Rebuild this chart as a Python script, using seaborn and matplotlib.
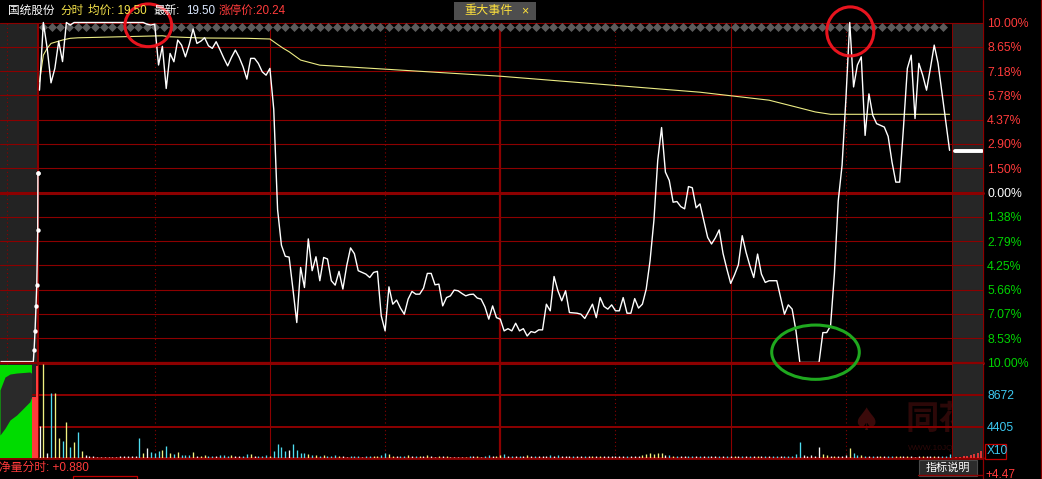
import numpy as np
import pandas as pd
import seaborn as sns
import matplotlib.pyplot as plt
from matplotlib.patches import Ellipse, Rectangle

# ---------------- data ----------------
# 国统股份 intraday, % change vs previous close, one value per minute (9:30 .. 14:57)
price_pct = [
    6.02, 10.00, 8.48, 6.45, 7.30, 8.90, 7.70, 10.00, 9.85, 10.00,
    10.00, 10.00, 10.00, 10.00, 10.00, 10.00, 10.00, 10.00, 10.00, 10.00,
    10.00, 10.00, 10.00, 10.00, 10.00, 10.00, 10.00, 10.00, 9.90, 9.85,
    9.90, 7.50, 8.60, 6.12, 8.18, 7.69, 8.97, 8.67, 7.98, 8.70,
    9.62, 8.77, 8.90, 9.10, 8.63, 8.48, 8.87, 8.40, 7.90, 7.45,
    7.95, 8.38, 7.95, 7.40, 6.67, 7.89, 7.89, 7.59, 7.10, 6.90,
    7.30, 4.90, -1.00, -3.10, -3.75, -3.80, -5.68, -7.65, -4.41, -5.59,
    -2.73, -4.60, -3.78, -5.19, -3.82, -3.91, -5.19, -5.45, -4.64, -5.68,
    -4.31, -3.26, -3.60, -4.60, -4.70, -4.80, -5.00, -4.70, -4.64, -7.26,
    -8.14, -5.55, -6.57, -6.33, -6.80, -7.16, -6.27, -5.82, -5.98, -5.98,
    -5.63, -4.76, -4.76, -5.43, -5.39, -6.67, -6.18, -6.08, -5.74, -5.78,
    -5.94, -6.08, -6.00, -5.98, -6.21, -6.27, -6.73, -7.45, -6.67, -7.36,
    -7.45, -8.14, -8.01, -8.14, -7.69, -8.14, -8.01, -8.44, -8.18, -8.24,
    -8.08, -8.08, -6.57, -6.96, -4.94, -5.78, -6.37, -5.78, -7.06, -7.08,
    -7.10, -7.16, -7.41, -7.00, -6.57, -7.36, -6.18, -6.70, -6.86, -6.61,
    -6.96, -6.96, -6.18, -7.10, -7.10, -6.24, -6.80, -6.57, -5.68, -4.01,
    -1.65, 1.89, 3.82, 1.20, 0.71, -0.57, -0.53, -0.83, -0.96, 0.35,
    0.28, -0.90, -0.67, -1.65, -2.64, -3.03, -2.67, -2.20, -3.58, -4.50,
    -5.35, -4.84, -4.25, -2.54, -3.52, -4.31, -5.00, -3.62, -4.80, -5.29,
    -5.19, -5.19, -5.19, -6.18, -7.16, -6.61, -6.86, -8.14, -10.00, -10.00,
    -10.00, -10.00, -10.00, -10.00, -8.24, -8.24, -7.85, -4.80, -0.50, 1.60,
    5.50, 10.00, 6.21, 7.50, 7.98, 3.36, 5.80, 4.54, 4.05, 3.95,
    3.85, 3.30, 1.80, 0.61, 0.61, 3.85, 7.30, 8.08, 4.35, 7.60,
    6.90, 6.02, 7.30, 8.67, 7.60, 5.90, 4.20, 2.48,
]

# average price line (minute, %)
avg_minute = [0, 1, 2, 3, 6, 8, 10, 32, 34, 42, 54, 60, 62, 63.5, 65, 68, 73,
              94, 120, 146, 172, 190, 197, 202, 206, 237]
avg_pct = [6.51, 8.08, 8.48, 8.77, 8.97, 9.07, 9.10, 9.22, 9.16, 9.09, 9.07, 9.03,
           8.71, 8.48, 8.28, 7.79, 7.49, 7.20, 6.84, 6.37, 5.90, 5.43, 5.03, 4.74,
           4.60, 4.60]

# minute volume and trade side (u = up / d = down / n = neutral)
volume = [
    4420, 12900, 680, 8990, 8990, 2780, 2370, 4970, 1500, 2230,
    3600, 1000, 450, 320, 320, 180, 180, 180, 180, 180,
    230, 320, 320, 320, 320, 320, 2780, 680, 1370, 910,
    780, 1050, 1140, 1690, 680, 590, 860, 450, 450, 450,
    860, 270, 270, 450, 270, 270, 320, 450, 450, 320,
    450, 320, 320, 320, 590, 590, 320, 320, 320, 450,
    320, 1050, 1960, 1500, 1050, 1140, 1960, 1140, 780, 780,
    590, 450, 450, 320, 450, 320, 320, 450, 320, 320,
    230, 320, 320, 320, 180, 320, 320, 320, 320, 450,
    780, 590, 320, 320, 320, 320, 450, 320, 320, 320,
    320, 450, 320, 180, 320, 320, 320, 230, 180, 180,
    180, 180, 320, 320, 320, 180, 320, 450, 320, 320,
    450, 590, 320, 320, 320, 320, 320, 450, 320, 320,
    320, 320, 320, 450, 320, 450, 320, 320, 320, 320,
    320, 320, 320, 320, 320, 320, 320, 320, 320, 320,
    320, 320, 320, 320, 320, 320, 320, 450, 590, 680,
    590, 780, 680, 450, 450, 320, 320, 320, 320, 320,
    320, 320, 320, 320, 320, 320, 320, 320, 320, 320,
    320, 320, 320, 320, 320, 320, 320, 320, 320, 320,
    320, 320, 320, 320, 320, 320, 320, 590, 2280, 450,
    320, 450, 320, 1500, 590, 450, 320, 320, 320, 320,
    450, 1370, 680, 450, 450, 320, 320, 320, 320, 320,
    320, 320, 320, 320, 320, 320, 320, 320, 140, 320,
    320, 320, 320, 320, 320, 320, 320, 590,
]
vol_side = ("nunduududu" "dunnnnnnnn" "nnnnnndund" "ddudududdd" "unuuddnddd"
            "unnddunddd" "uddddndddd" "udududddun" "ndddndduud" "duunddundu"
            "nunnununnn" "nudnunddnu" "udndndnund" "nnndndnnnd" "nndnununnn"
            "nnndnnnuuu" "uuundudnnd" "dndndnndnd" "nundndnund" "nddndddddn"
            "nnnnuununn" "nuddudndnu" "ndduununnn" "unnunddd")

# opening call auction 9:15-9:25 (auction minute, %)
open_auc_t = [0, 8.7, 8.9, 9.15, 9.4, 9.6, 9.85, 9.9, 10.0]
open_auc_pct = [-9.96, -9.96, -9.26, -8.14, -6.67, -5.43, -2.18, 1.14, 1.14]
# opening auction unmatched volume band
band_t = [0, 1.3, 2.6, 4.35, 6.1, 7.8, 8.28]
band_lo = [3188, 4105, 5241, 5925, 6842, 7745, 8430]
band_hi = [9346, 11120, 11530, 11670, 11740, 11810, 11631]
# closing call auction 14:57-15:00
close_auc_pct = 2.44
close_auc_vol = [205, 230, 270, 340, 450, 590, 780, 1050]

pct_labels = ['10.00%', '8.65%', '7.18%', '5.78%', '4.37%', '2.90%', '1.50%', '0.00%',
              '1.38%', '2.79%', '4.25%', '5.66%', '7.07%', '8.53%', '10.00%']
vol_max = 13000
vol_labels = ['8672', '4405']

# ---------------- layout helpers ----------------
W, H = 1042, 479
X0, PPM = 39.5, 3.84          # pixel of 9:30 and pixels per minute
GRID = '#8c0000'
RED, GREEN = '#ff3b3b', '#00d000'
side_colors = {'u': '#f0f080', 'd': '#4fdcf0', 'n': '#f2f2f2'}


def px2min(px):
    return (px - X0) / PPM


def auc(a):
    return px2min(np.asarray(a) * 3.83)


sns.set_theme(style='dark', rc={'axes.facecolor': 'none', 'figure.facecolor': 'black',
                                'savefig.facecolor': 'black', 'axes.edgecolor': 'none'})
plt.rcParams['font.family'] = ['Liberation Sans', 'Noto Sans CJK SC']

fig = plt.figure(figsize=(W / 100, H / 100), dpi=100)


def add_px_axes(x0, y0, x1, y1, **kw):
    return fig.add_axes([x0 / W, 1 - y1 / H, (x1 - x0) / W, (y1 - y0) / H], **kw)


ax_back = add_px_axes(0, 0, W, H, zorder=-1)
ax_p = add_px_axes(0, 22.5, 983, 362.5)
ax_v = add_px_axes(0, 363.3, 983, 458.3)
ax_f = add_px_axes(0, 0, W, H, zorder=10)
for a in (ax_back, ax_f):
    a.set_xlim(0, W)
    a.set_ylim(H, 0)
    a.axis('off')

xl = (px2min(0), px2min(983))
ax_p.set_xlim(*xl)
ax_p.set_ylim(-10, 10)
ax_v.set_xlim(*xl)
ax_v.set_ylim(0, vol_max)

# watermark (very faint, partly hidden by the closing-auction zone)
ax_back.text(866, 422, '\u2660', color='#3a0a0a', fontsize=22, ha='center', va='center',
             family='DejaVu Sans')
ax_back.text(905, 420, '同花', color='#2c0808', fontsize=24, fontweight='bold', va='center')
ax_back.text(908, 448, 'WWW.10JQKA', color='#2c0808', fontsize=6, va='center')

# auction zones
for ax in (ax_p, ax_v):
    ax.axvspan(px2min(0), px2min(38.3), color='#232323', lw=0, zorder=0)
    ax.axvspan(px2min(951.7), px2min(983), color='#262626', lw=0, zorder=0)

# grid
levels = [k * 10 / 7 for k in range(7, -8, -1)]
for k, lv in zip(range(7, -8, -1), levels):
    ax_p.axhline(lv, color=GRID, lw=2.2 if k in (0, -7) else 0.8, zorder=1, clip_on=False)
for lv, lw in ((0, 2.0), (vol_max / 3, 1.4), (2 * vol_max / 3, 1.4), (vol_max, 1.6)):
    ax_v.axhline(lv, color=GRID, lw=lw, zorder=1, clip_on=False)
for ax in (ax_p, ax_v):
    for m in (30, 90, 150, 210):
        ax.axvline(m, color=GRID, lw=0.8, ls=(0, (1, 2.5)), zorder=1)
    ax.axvline(px2min(7.3), color=GRID, lw=0.8, ls=(0, (1, 2.5)), zorder=1)
    for m, lw in ((60, 0.8), (120, 1.6), (180, 0.8)):
        ax.axvline(m, color=GRID, lw=lw, zorder=1)
    ax.axvline(px2min(38.3), color=GRID, lw=1.5, zorder=1)
    ax.axvline(px2min(951.7), color=GRID, lw=0.7, zorder=1)

# limit-up markers along the top
dia_x = np.arange(px2min(43), px2min(949), 8.65 / PPM)
sns.scatterplot(x=dia_x, y=np.full(len(dia_x), 9.72), marker='D', s=21, color='#5c5c5c',
                linewidth=0, ax=ax_p, zorder=2, clip_on=False, legend=False)

# price / average lines
minutes = np.arange(len(price_pct))
sns.lineplot(x=avg_minute, y=avg_pct, color='#ecec84', linewidth=0.8, ax=ax_p, zorder=4)
sns.lineplot(x=minutes, y=price_pct, color='white', linewidth=1.0, ax=ax_p, zorder=5,
             clip_on=False)

# opening auction
ax_p.plot(auc(open_auc_t[:2]), open_auc_pct[:2], color='white', lw=2.3, zorder=5,
          clip_on=False, solid_capstyle='butt')
ax_p.plot(auc(open_auc_t[1:]), open_auc_pct[1:], color='white', lw=1.0, zorder=5)
sns.scatterplot(x=auc(open_auc_t[2:]), y=open_auc_pct[2:], color='white', s=10,
                linewidth=0, ax=ax_p, zorder=6, legend=False)

# closing auction
ax_p.plot([px2min(955), px2min(982)], [close_auc_pct] * 2, color='white', lw=2.8,
          solid_capstyle='round', zorder=5)
ax_p.plot([px2min(965), px2min(983)], [-10.1] * 2, color=RED, lw=0.8, ls=(0, (2, 1.5)),
          zorder=5, clip_on=False)

# volume bars
ax_v.vlines(minutes, 0, volume, colors=[side_colors[s] for s in vol_side], lw=0.95, zorder=3)
ax_v.vlines(np.linspace(px2min(956.5), px2min(981.5), len(close_auc_vol)), 0, close_auc_vol,
            colors=RED, lw=1.2, zorder=3)

# opening auction volume
ax_v.fill_between(auc([0, 8.28]), 0, vol_max * 0.98, color='#00dc00', lw=0, zorder=2)
ax_v.fill_between(auc(band_t), band_lo, band_hi, color='#2a2a2a', lw=0, zorder=2)
ax_v.fill_between(auc([8.28, 9.33]), 0, 8430, color=RED, lw=0, zorder=2)
ax_v.fill_between(auc([9.4, 10.0]), 0, 12600, color=RED, lw=0, zorder=2)

# right axis labels
for ax in (ax_p, ax_v):
    ax.yaxis.tick_right()
    ax.set_xticks([])
    ax.tick_params(axis='y', length=0, pad=3, labelsize=8.8)
    for sp in ax.spines.values():
        sp.set_visible(False)
ax_p.set_yticks(levels)
ax_p.set_yticklabels(pct_labels)
for i, t in enumerate(ax_p.get_yticklabels()):
    t.set_color(RED if i < 7 else ('white' if i == 7 else '#00d400'))
ax_v.set_yticks([2 * vol_max / 3, vol_max / 3])
ax_v.set_yticklabels(vol_labels)
for t in ax_v.get_yticklabels():
    t.set_color('#3cc8f0')
ax_p.set_xlabel('')
ax_p.set_ylabel('')

# frame lines outside the panels
ax_back.plot([983, 983], [0, H], color=GRID, lw=0.9)
ax_back.plot([1040.5, 1040.5], [0, H], color=GRID, lw=0.9)

# header
ty, fs = 10.5, 8.4
ax_f.text(8, ty, '国统股份', color='white', fontsize=fs, va='center')
ax_f.text(60, ty, '分时', color='#f5e34a', fontsize=fs, va='center')
ax_f.text(88, ty, '均价: 19.50', color='#f5e34a', fontsize=fs, va='center')
ax_f.text(153, ty, '最新:', color='white', fontsize=fs, va='center')
ax_f.text(186, ty, '19.50', color='#dbe8ff', fontsize=fs, va='center')
ax_f.text(219, ty, '涨停价:20.24', color=RED, fontsize=fs, va='center')
ax_f.add_patch(Rectangle((453.5, 2), 82, 17.5, facecolor='#4e4e4e', edgecolor='none'))
ax_f.text(464, ty + 0.5, '重大事件', color='#ffe23c', fontsize=fs + 0.3, va='center')
ax_f.text(521, ty + 0.5, '×', color='#ffe23c', fontsize=fs + 0.5, va='center')

# volume scale tag and footer
ax_f.add_patch(Rectangle((984.5, 443.5), 21, 15, facecolor='none', edgecolor='#c00000', lw=0.9))
ax_f.text(986.5, 451.5, 'X10', color='#3cc8f0', fontsize=8.6, va='center')
ax_f.text(-1, 468, '净量分时: +0.880', color=RED, fontsize=8.5, va='center')
ax_f.add_patch(Rectangle((918.5, 459.5), 58, 16, facecolor='#2b2b2b', edgecolor='#4a4a4a',
                         lw=0.8))
ax_f.text(947.5, 467.5, '指标说明', color='white', fontsize=8, va='center', ha='center')
ax_f.plot([918, 983], [474.5, 474.5], color=GRID, lw=1)
ax_f.plot([73, 73, 137, 137], [479, 475.5, 475.5, 479], color='#c00000', lw=0.9)
ax_f.text(985, 475, '+4.47', color=RED, fontsize=8.6, va='center')

# hand-drawn annotations
ax_f.add_patch(Ellipse((148.3, 25.3), 46.7, 42.7, facecolor='none', edgecolor='#e8141e', lw=2.2))
ax_f.add_patch(Ellipse((850.3, 31.4), 47, 49, facecolor='none', edgecolor='#e8141e', lw=2.2))
ax_f.add_patch(Ellipse((815.5, 352.2), 87.6, 54.3, facecolor='none', edgecolor='#1fa81f',
                       lw=2.2))

fig.savefig('out.png', dpi=100, facecolor='black')
